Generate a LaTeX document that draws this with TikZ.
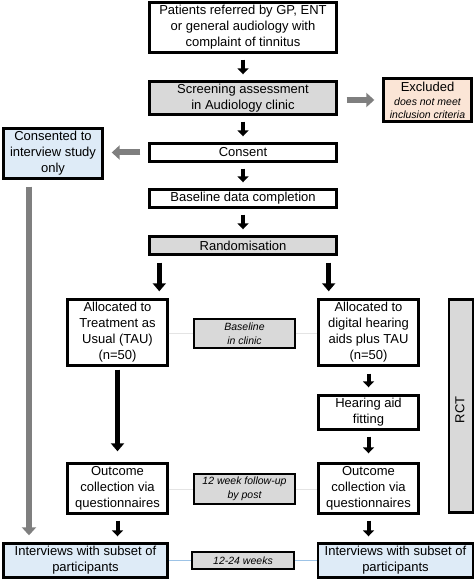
\documentclass[tikz,border=0pt]{standalone}
\usepackage{fontspec}
\setmainfont{Liberation Sans}
\usetikzlibrary{arrows.meta}

\definecolor{boxgray}{HTML}{D9D9D9}
\definecolor{peach}{HTML}{FBE5D6}
\definecolor{paleblue}{HTML}{DEEBF7}
\definecolor{arrgray}{HTML}{7F7F7F}
\definecolor{lineblue}{HTML}{9DC3E6}

\tikzset{
  box/.style={draw, line width=2.4pt, inner sep=0pt, align=center,
    font=\fontsize{13}{16}\selectfont},
  note/.style={draw, line width=1.8pt, fill=boxgray, inner sep=0pt, align=center,
    font=\fontsize{10.5}{13.5}\selectfont\itshape},
  blk/.style={line width=4pt, -{Triangle[length=6pt,width=11pt]}},
  bigblk/.style={line width=5pt, -{Triangle[length=8pt,width=13pt]}},
  grayarr/.style={draw=arrgray, line width=6pt, -{Triangle[length=8pt,width=14pt]}}
}

\begin{document}
\begin{tikzpicture}[x=1pt,y=-1pt]
  \useasboundingbox (0,0) rectangle (474,580);

  % Recruitment
  \node[box, minimum width=187pt, minimum height=50pt] (pat) at (243,27.5)
    {Patients referred by GP, ENT\\or general audiology with\\complaint of tinnitus};
  \node[box, fill=boxgray, minimum width=187pt, minimum height=33pt] (scr) at (243,98)
    {Screening assessment\\in Audiology clinic};
  \node[box, fill=peach, minimum width=88pt, minimum height=43pt] (excl) at (427.5,100)
    {Excluded\\[-2pt]{\fontsize{10.5}{13}\selectfont\itshape does not meet}\\[-3pt]
     {\fontsize{10.5}{13}\selectfont\itshape inclusion criteria}};
  \node[box, minimum width=187pt, minimum height=18pt] (cons) at (243,152.5) {Consent};
  \node[box, fill=paleblue, minimum width=99pt, minimum height=50pt] (only) at (53,153.5)
    {Consented to\\interview study\\only};
  \node[box, minimum width=187pt, minimum height=18pt] (base) at (243,198.5)
    {Baseline data completion};
  \node[box, fill=boxgray, minimum width=187pt, minimum height=18pt] (rand) at (243,245.5)
    {Randomisation};

  % Two arms
  \node[box, minimum width=100pt, minimum height=66pt] (tau) at (117.5,332.5)
    {Allocated to\\Treatment as\\Usual (TAU)\\(n=50)};
  \node[box, minimum width=100pt, minimum height=66pt] (dig) at (368.5,332.5)
    {Allocated to\\digital hearing\\aids plus TAU\\(n=50)};
  \node[note, minimum width=101pt, minimum height=29pt] (nb) at (244.5,333.5)
    {Baseline\\in clinic};
  \node[box, minimum width=100pt, minimum height=34pt] (fit) at (368.5,412.5)
    {Hearing aid\\fitting};
  \node[box, minimum width=100pt, minimum height=50pt] (outl) at (117.5,488.5)
    {Outcome\\collection via\\questionnaires};
  \node[box, minimum width=100pt, minimum height=50pt] (outr) at (368.5,488.5)
    {Outcome\\collection via\\questionnaires};
  \node[note, minimum width=101pt, minimum height=30pt] (nf) at (244.5,489)
    {12 week follow-up\\by post};
  \node[box, fill=boxgray, minimum width=24pt, minimum height=213pt] (rct) at (461,406) {};
  \node[font=\fontsize{13}{16}\selectfont, rotate=90] (rcttxt) at (460,410) {RCT};

  % Interviews
  \node[box, fill=paleblue, minimum width=164pt, minimum height=34pt] (intl) at (85.5,560.5)
    {Interviews with subset of\\participants};
  \node[box, fill=paleblue, minimum width=155pt, minimum height=34pt] (intr) at (395.5,560.5)
    {Interviews with subset of\\participants};
  \node[note, minimum width=102pt, minimum height=17pt] (nw) at (243,560.5) {12-24 weeks};

  % Thin links to the time notes
  \draw[boxgray!70, line width=0.6pt] (tau.east |- nb) -- (nb.west);
  \draw[boxgray!70, line width=0.6pt] (nb.east) -- (dig.west |- nb);
  \draw[boxgray!70, line width=0.6pt] (tau.east |- nf) -- (nf.west);
  \draw[boxgray!70, line width=0.6pt] (nf.east) -- (outr.west |- nf);
  \draw[lineblue, line width=1pt] (intl.east |- nw) -- (nw.west);
  \draw[lineblue, line width=1pt] (nw.east) -- (intr.west |- nw);

  % Main flow arrows
  \draw[blk, shorten <=6pt, shorten >=6pt] (pat) -- (scr);
  \draw[blk, shorten <=6pt, shorten >=6pt] (scr) -- (cons);
  \draw[blk, shorten <=6pt, shorten >=6pt] (cons) -- (base);
  \draw[blk, shorten <=6pt, shorten >=6pt] (base) -- (rand);
  \draw[bigblk, shorten <=7pt, shorten >=7pt] ([xshift=11pt]rand.south west) -- ([xshift=11pt]rand.south west |- tau.north);
  \draw[bigblk, shorten <=7pt, shorten >=7pt] ([xshift=-9pt]rand.south east) -- ([xshift=-9pt]rand.south east |- dig.north);
  \draw[bigblk, shorten <=3pt, shorten >=11pt] (tau) -- (outl);
  \draw[blk, shorten <=7pt, shorten >=7pt] (dig) -- (fit);
  \draw[blk, shorten <=6pt, shorten >=9pt] (fit) -- (outr);
  \draw[blk, shorten <=6pt, shorten >=6pt] (outl) -- (outl |- intl.north);
  \draw[blk, shorten <=6pt, shorten >=6pt] (outr) -- (outr |- intr.north);

  % Side arrows
  \draw[grayarr, shorten <=9pt, shorten >=8pt] (scr.east |- excl) -- (excl.west);
  \draw[grayarr, shorten <=8pt, shorten >=8pt] (cons.west) -- (only.east |- cons);
  \draw[grayarr, shorten <=7pt, shorten >=7pt] ([xshift=-24pt]only.south) -- ([xshift=-24pt]only.south |- intl.north);
\end{tikzpicture}
\end{document}
